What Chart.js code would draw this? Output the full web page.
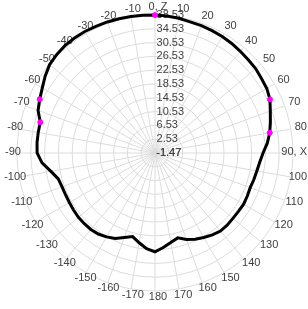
<!DOCTYPE html>
<html>
<head>
<meta charset="utf-8">
<script src="https://cdn.jsdelivr.net/npm/chart.js@4.4.0/dist/chart.umd.min.js"></script>
<style>
  html, body { margin: 0; padding: 0; background: #fff; overflow: hidden; }
  #wrap { width: 308px; height: 309px; }
</style>
</head>
<body>
<div id="wrap"><canvas id="chart" width="308" height="309"></canvas></div>
<script>
// Angles clockwise from the top (0 = Z axis, 90 = X axis), every 5 degrees
const angles = [
    0, 5, 10, 15, 20, 25, 30, 35, 40, 45, 50, 55, 60, 65, 70, 75, 80, 85,
    90, 95, 100, 105, 110, 115, 120, 125, 130, 135, 140, 145, 150, 155, 160, 165, 170, 175,
    180, -175, -170, -165, -160, -155, -150, -145, -140, -135, -130, -125, -120, -115, -110, -105, -100, -95,
    -90, -85, -80, -75, -70, -65, -60, -55, -50, -45, -40, -35, -30, -25, -20, -15, -10, -5
];

// Pattern values, same order as angles
const gain = [
    38.5, 38.4, 38.2, 37.9, 37.8, 37.65, 37.5, 37.3, 37.0, 36.75, 36.6, 36.2, 35.95, 35.3, 34.1, 33.15, 32.3, 31.2,
    29.85, 29.0, 28.5, 28.2, 27.9, 28.05, 28.2, 28.05, 28.0, 28.1, 28.05, 27.5, 26.8, 26.1, 25.2, 24.0, 24.85, 26.05,
    27.2, 26.35, 24.95, 23.6, 24.6, 25.9, 26.6, 27.2, 27.45, 27.5, 27.5, 27.35, 27.2, 27.15, 27.2, 27.55, 29.15, 31.4,
    32.7, 32.85, 32.9, 32.95, 34.6, 35.4, 36.25, 37.4, 38.4, 38.85, 39.15, 39.2, 39.2, 39.05, 38.95, 38.8, 38.7, 38.6
];

// Angles that carry a magenta marker
const markerAngles = [0, 65, 80, -75, -65];

// Radial axis
const radialMin = -1.47;
const radialMax = 38.53;
const radialStep = 4;

// Angle labels, one every 10 degrees
const angleLabels = angles.map(a => {
    if (a % 10 !== 0) return '';
    if (a === 0) return '0, Z';
    if (a === 90) return '90, X';
    return String(a);
});

const markerValues = angles.map((a, i) => markerAngles.includes(a) ? gain[i] : null);

const FONT_FAMILY = "'Liberation Sans', Arial, sans-serif";
const TEXT_COLOR = '#404040';
const GRID_COLOR = '#dcdcdc';

// tick labels sit just right of the vertical axis: pad them with spaces
const measureCtx = document.createElement('canvas').getContext('2d');
measureCtx.font = `11px ${FONT_FAMILY}`;
function leftAlign(text) {
    const w = measureCtx.measureText(text).width;
    const space = measureCtx.measureText(' ').width;
    return ' '.repeat(Math.round((w + 2) / space)) + text;
}

// Angle labels centred on a ring just outside the grid (the reference
// centres them instead of anchoring a corner), kept inside the canvas
const ringLabels = {
    id: 'ringLabels',
    beforeDatasetsDraw(chart) {
        const scale = chart.scales.r;
        const ctx = chart.ctx;
        ctx.save();
        ctx.font = `11px ${FONT_FAMILY}`;
        ctx.fillStyle = TEXT_COLOR;
        ctx.textAlign = 'center';
        ctx.textBaseline = 'middle';
        angleLabels.forEach((text, i) => {
            if (!text) return;
            const p = scale.getPointPosition(i, scale.drawingArea + 7);
            const half = ctx.measureText(text).width / 2;
            const x = Math.min(Math.max(p.x + 3, half + 1), chart.width - half - 1);
            ctx.fillText(text, x, p.y - 1);
        });
        ctx.restore();
    }
};

new Chart(document.getElementById('chart'), {
    type: 'radar',
    data: {
        labels: angleLabels,
        datasets: [{
            data: markerValues,
            order: 0,
            showLine: false,
            pointRadius: 2.5,
            pointBackgroundColor: '#ff00ff',
            pointBorderColor: '#ff00ff',
            pointBorderWidth: 1
        }, {
            data: gain,
            order: 1,
            fill: false,
            borderColor: '#000000',
            backgroundColor: 'rgba(0,0,0,0)',
            borderWidth: 3,
            pointRadius: 0,
            tension: 0
        }]
    },
    options: {
        responsive: false,
        animation: false,
        layout: { padding: { left: 10, right: 7, top: 8, bottom: 10 } },
        plugins: {
            legend: { display: false },
            tooltip: { enabled: false }
        },
        scales: {
            r: {
                min: radialMin,
                max: radialMax,
                // keep the centre label: the first tick label is never drawn
                afterBuildTicks: scale => { scale.ticks.unshift({ value: radialMin }); },
                ticks: {
                    stepSize: radialStep,
                    showLabelBackdrop: false,
                    color: TEXT_COLOR,
                    font: { size: 11, family: FONT_FAMILY },
                    callback: v => leftAlign(Number(v).toFixed(2))
                },
                grid: { circular: true, color: GRID_COLOR, lineWidth: 1 },
                angleLines: {
                    color: ctx => ctx.index % 2 ? 'rgba(0,0,0,0)' : GRID_COLOR,
                    lineWidth: 1
                },
                pointLabels: { display: false }
            }
        }
    },
    plugins: [ringLabels]
});
</script>
</body>
</html>
